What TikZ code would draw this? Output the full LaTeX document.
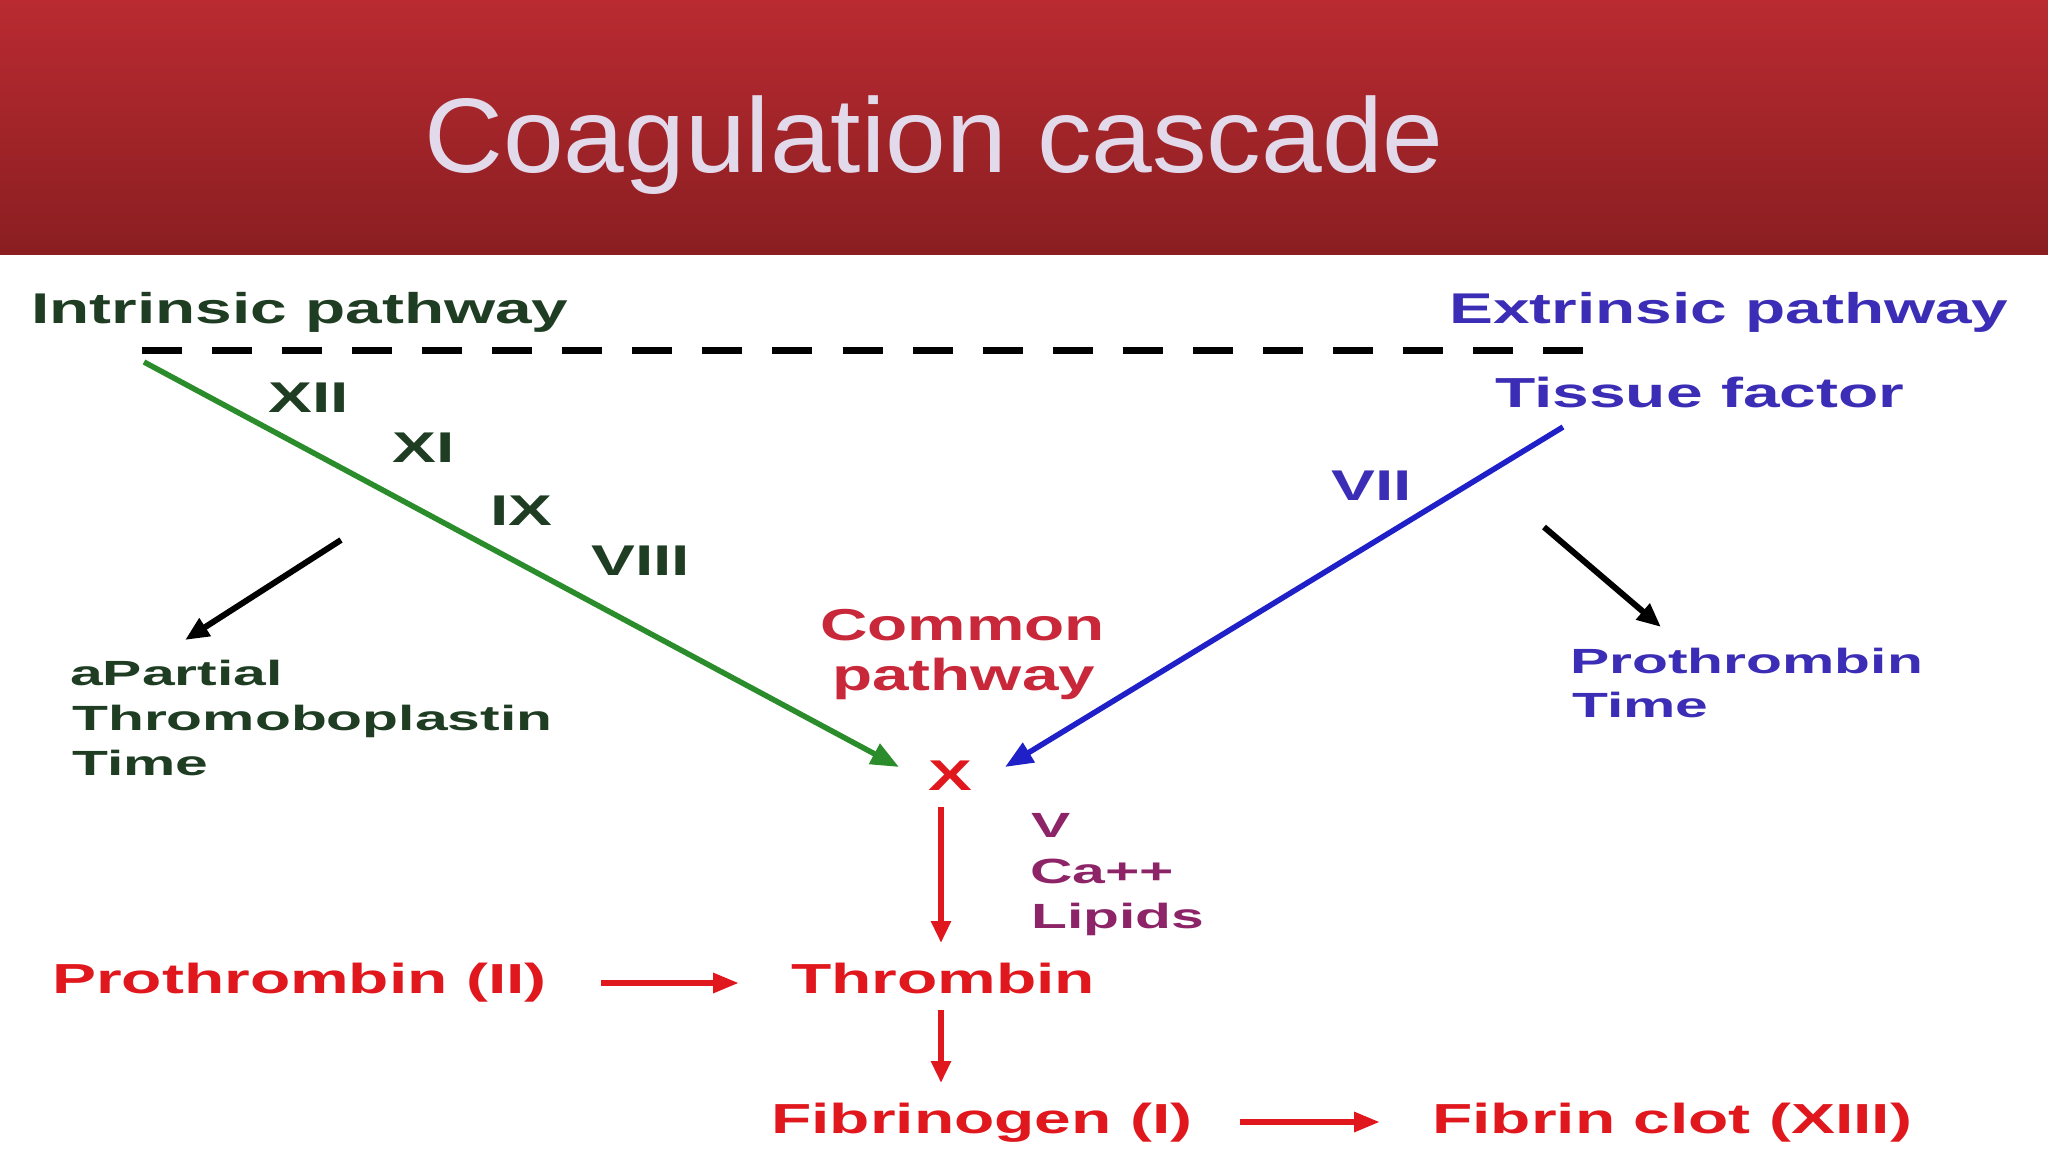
\documentclass[tikz,border=0pt]{standalone}
\usepackage{fontspec}
\usetikzlibrary{arrows.meta}
\newfontfamily\titlefont{Liberation Sans}[FakeStretch=1.03]
\newfontfamily\fA{Liberation Sans}[FakeStretch=1.53]
\newfontfamily\fB{Liberation Sans}[FakeStretch=1.57]
\newfontfamily\fC{Liberation Sans}[FakeStretch=1.68]
\newfontfamily\fD{Liberation Sans}[FakeStretch=1.47]
\definecolor{bandtop}{HTML}{B92B31}
\definecolor{bandbot}{HTML}{8A1E21}
\definecolor{titlecol}{HTML}{E2D9EA}
\definecolor{dgreen}{HTML}{1F3D22}
\definecolor{lgreen}{HTML}{2A8C2A}
\definecolor{btext}{HTML}{3B2DB5}
\definecolor{bline}{HTML}{2020C8}
\definecolor{rtext}{HTML}{E0181E}
\definecolor{ctext}{HTML}{C8283A}
\definecolor{ptext}{HTML}{8E2468}
\tikzset{
  lbl/.style={inner sep=0pt, anchor=base west},
  bigA/.style={lbl, font=\fA\bfseries\fontsize{43}{50}\selectfont},
  bigB/.style={lbl, font=\fB\bfseries\fontsize{42}{50}\selectfont},
  smallC/.style={lbl, font=\fC\bfseries\fontsize{35}{42}\selectfont},
  commonD/.style={lbl, font=\fD\bfseries\fontsize{44.7}{50}\selectfont, text=ctext},
  garrow/.style={line width=5.5pt, draw=lgreen, -{Triangle[length=28pt,width=22pt]}},
  barrow/.style={line width=5.5pt, draw=bline, -{Triangle[length=28pt,width=22pt]}},
  karrow/.style={line width=6pt, draw=black, -{Triangle[length=24pt,width=20pt]}},
  rvarrow/.style={line width=5.5pt, draw=rtext, -{Triangle[length=22pt,width=19pt]}},
  rharrow/.style={line width=6pt, draw=rtext, -{Triangle[length=26pt,width=19pt]}},
}
\begin{document}
\begin{tikzpicture}[x=1pt, y=-1pt]
\useasboundingbox (0,0) rectangle (2048,1152);
\fill[white] (0,0) rectangle (2048,1152);
\shade[top color=bandtop, bottom color=bandbot] (0,0) rectangle (2048,254);
\node[lbl, font=\titlefont\fontsize{106}{120}\selectfont, text=titlecol] (title) at (424,172) {Coagulation cascade};

% headings
\node[bigA, text=dgreen] (intr) at (31,323) {Intrinsic pathway};
\node[bigA, text=btext] (extr) at (1449,323) {Extrinsic pathway};
\coordinate (dashL) at (142,350);
\coordinate (dashR) at (1583,350);
\draw[line width=7pt, dash pattern=on 40pt off 30.05pt] (dashL) -- (dashR);

% intrinsic factors
\node[bigA, text=dgreen] (f12) at (268,412) {XII};
\node[bigA, text=dgreen] (f11) at (392,462) {XI};
\node[bigA, text=dgreen] (f9) at (490,525) {IX};
\node[bigA, text=dgreen] (f8) at (591,575) {VIII};

% extrinsic
\node[bigB, text=btext] (tissue) at (1495,407) {Tissue factor};
\node[bigA, text=btext] (f7) at (1331,500) {VII};

% aPTT
\node[smallC, text=dgreen] (ap1) at (70,685) {aPartial};
\node[smallC, text=dgreen] (ap2) at (72,730) {Thromoboplastin};
\node[smallC, text=dgreen] (ap3) at (72,775) {Time};

% PT
\node[smallC, text=btext] (pt1) at (1570,673) {Prothrombin};
\node[smallC, text=btext] (pt2) at (1572,717) {Time};

% common
\node[commonD] (com1) at (820,640) {Common};
\node[commonD] (com2) at (832,690) {pathway};
\node[bigA, text=rtext] (fx) at (928,790) {X};

\node[smallC, text=ptext] (cf1) at (1031,837) {V};
\node[smallC, text=ptext] (cf2) at (1030,883) {Ca++};
\node[smallC, text=ptext] (cf3) at (1031,928) {Lipids};

\node[bigB, text=rtext] (proth) at (52,993) {Prothrombin (II)};
\node[bigB, text=rtext] (thromb) at (791,993) {Thrombin};
\node[bigB, text=rtext] (fibrino) at (771,1133) {Fibrinogen (I)};
\node[bigB, text=rtext] (fibrin) at (1432,1133) {Fibrin clot (XIII)};

% connector end points
\coordinate (gS) at (144,362);
\coordinate (gE) at (899,767);
\coordinate (bS) at (1563,427);
\coordinate (bE) at (1005,767);
\coordinate (kLS) at (341,540);
\coordinate (kLE) at (185,640);
\coordinate (kRS) at (1544,527);
\coordinate (kRE) at (1661,627);
\coordinate (v1S) at (941,807);
\coordinate (v1E) at (941,943);
\coordinate (v2S) at (941,1010);
\coordinate (v2E) at (941,1083);
\coordinate (h1S) at (601,983);
\coordinate (h1E) at (739,983);
\coordinate (h2S) at (1240,1122);
\coordinate (h2E) at (1380,1122);

\draw[garrow] (gS) -- (gE);
\draw[barrow] (bS) -- (bE);
\draw[karrow] (kLS) -- (kLE);
\draw[karrow] (kRS) -- (kRE);
\draw[rvarrow] (v1S) -- (v1E);
\draw[rvarrow] (v2S) -- (v2E);
\draw[rharrow] (h1S) -- (h1E);
\draw[rharrow] (h2S) -- (h2E);
\end{tikzpicture}
\end{document}
